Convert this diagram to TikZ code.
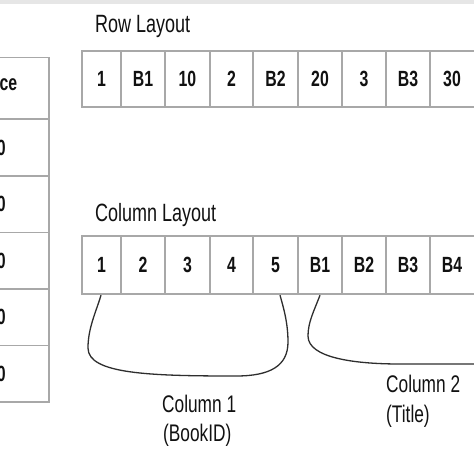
\documentclass[tikz,border=0pt]{standalone}
\usepackage{fontspec}
\setmainfont{Liberation Sans}[FakeStretch=0.72]
\definecolor{gridgray}{HTML}{A8A8A8}
\definecolor{bracegray}{HTML}{2E2E2E}
\definecolor{stripgray}{HTML}{E6E6E6}
\definecolor{ink}{HTML}{111111}
\begin{document}
\begin{tikzpicture}[x=1pt,y=-1pt,
  gridline/.style={draw=gridgray,line width=1.3pt},
  cell/.style={inner sep=0pt,minimum height=56pt,text=ink,font=\bfseries\fontsize{22}{26}\selectfont},
  celltext/.style={inner sep=0pt,text=ink,font=\bfseries\fontsize{22}{26}\selectfont},
  title/.style={font=\fontsize{25}{30}\selectfont,anchor=base west,inner sep=0pt,text=ink},
  lbl/.style={font=\fontsize{24}{29}\selectfont,anchor=base west,inner sep=0pt,text=ink},
  brace/.style={draw=bracegray,line width=1.3pt}]
\useasboundingbox (0,0) rectangle (474,474);
\clip (0,0) rectangle (474,474);
\fill[stripgray] (0,0) rectangle (474,4);
% left table (partly cut)
\draw[gridline] (-5,57.5) -| (49,402) -- (-5,402);
\foreach \y in {119,176,232.5,289,345.5} \draw[gridline] (-5,\y) -- (49,\y);
\node[celltext,anchor=base east] (price) at (17.5,90) {ce};
\node[celltext,anchor=base east] (p1) at (6,155.3) {0};
\node[celltext,anchor=base east] (p2) at (6,211.8) {0};
\node[celltext,anchor=base east] (p3) at (6,268.3) {0};
\node[celltext,anchor=base east] (p4) at (6,324.8) {0};
\node[celltext,anchor=base east] (p5) at (6,381.3) {0};
% titles
\node[title] (rowtitle) at (95,32) {Row Layout};
\node[title] (coltitle) at (95,221) {Column Layout};
% row layout
\draw[gridline] (478,51) -| (82,107) -- (478,107);
\foreach \x in {121,165,210,253,298,342,386,430} \draw[gridline] (\x,51) -- (\x,107);
\node[cell,minimum width=39pt] (r1) at (101.5,79) {1};
\node[cell,minimum width=44pt] (r2) at (143,79) {B1};
\node[cell,minimum width=44pt] (r3) at (187.5,79) {10};
\node[cell,minimum width=44pt] (r4) at (231.5,79) {2};
\node[cell,minimum width=44pt] (r5) at (275.5,79) {B2};
\node[cell,minimum width=44pt] (r6) at (320,79) {20};
\node[cell,minimum width=44pt] (r7) at (364,79) {3};
\node[cell,minimum width=44pt] (r8) at (408,79) {B3};
\node[cell,minimum width=44pt] (r9) at (452,79) {30};
% column layout
\draw[gridline] (478,236) -| (82,294) -- (478,294);
\foreach \x in {121,165,210,253,298,342,386,430} \draw[gridline] (\x,236) -- (\x,294);
\node[cell,minimum width=39pt] (c1) at (101.5,265) {1};
\node[cell,minimum width=44pt] (c2) at (143,265) {2};
\node[cell,minimum width=44pt] (c3) at (187.5,265) {3};
\node[cell,minimum width=44pt] (c4) at (231.5,265) {4};
\node[cell,minimum width=44pt] (c5) at (275.5,265) {5};
\node[cell,minimum width=44pt] (c6) at (320,265) {B1};
\node[cell,minimum width=44pt] (c7) at (364,265) {B2};
\node[cell,minimum width=44pt] (c8) at (408,265) {B3};
\node[cell,minimum width=44pt] (c9) at (452,265) {B4};
% braces
\coordinate (b2end) at (478,364);
\draw[brace] ([xshift=-0.5pt,yshift=-2pt]c1.south) .. controls (96,312) and (88,328) .. (88,348)
  .. controls (88,374) and (150,376) .. (236,376)
  .. controls (270,376) and (288,366) .. (288,342)
  .. controls (288,322) and (283,306) .. ([xshift=4.5pt,yshift=-2pt]c5.south);
\draw[brace] ([yshift=-2pt]c6.south) .. controls (314,311) and (308,322) .. (308,336)
  .. controls (308,358) and (355,364) .. (400,364) -- (b2end);
% labels
\node[lbl] (col1a) at (162,412) {Column 1};
\node[lbl] (col1b) at (163,441) {(BookID)};
\node[lbl] (col2a) at (386,392) {Column 2};
\node[lbl] (col2b) at (386,422) {(Title)};
\end{tikzpicture}
\end{document}
